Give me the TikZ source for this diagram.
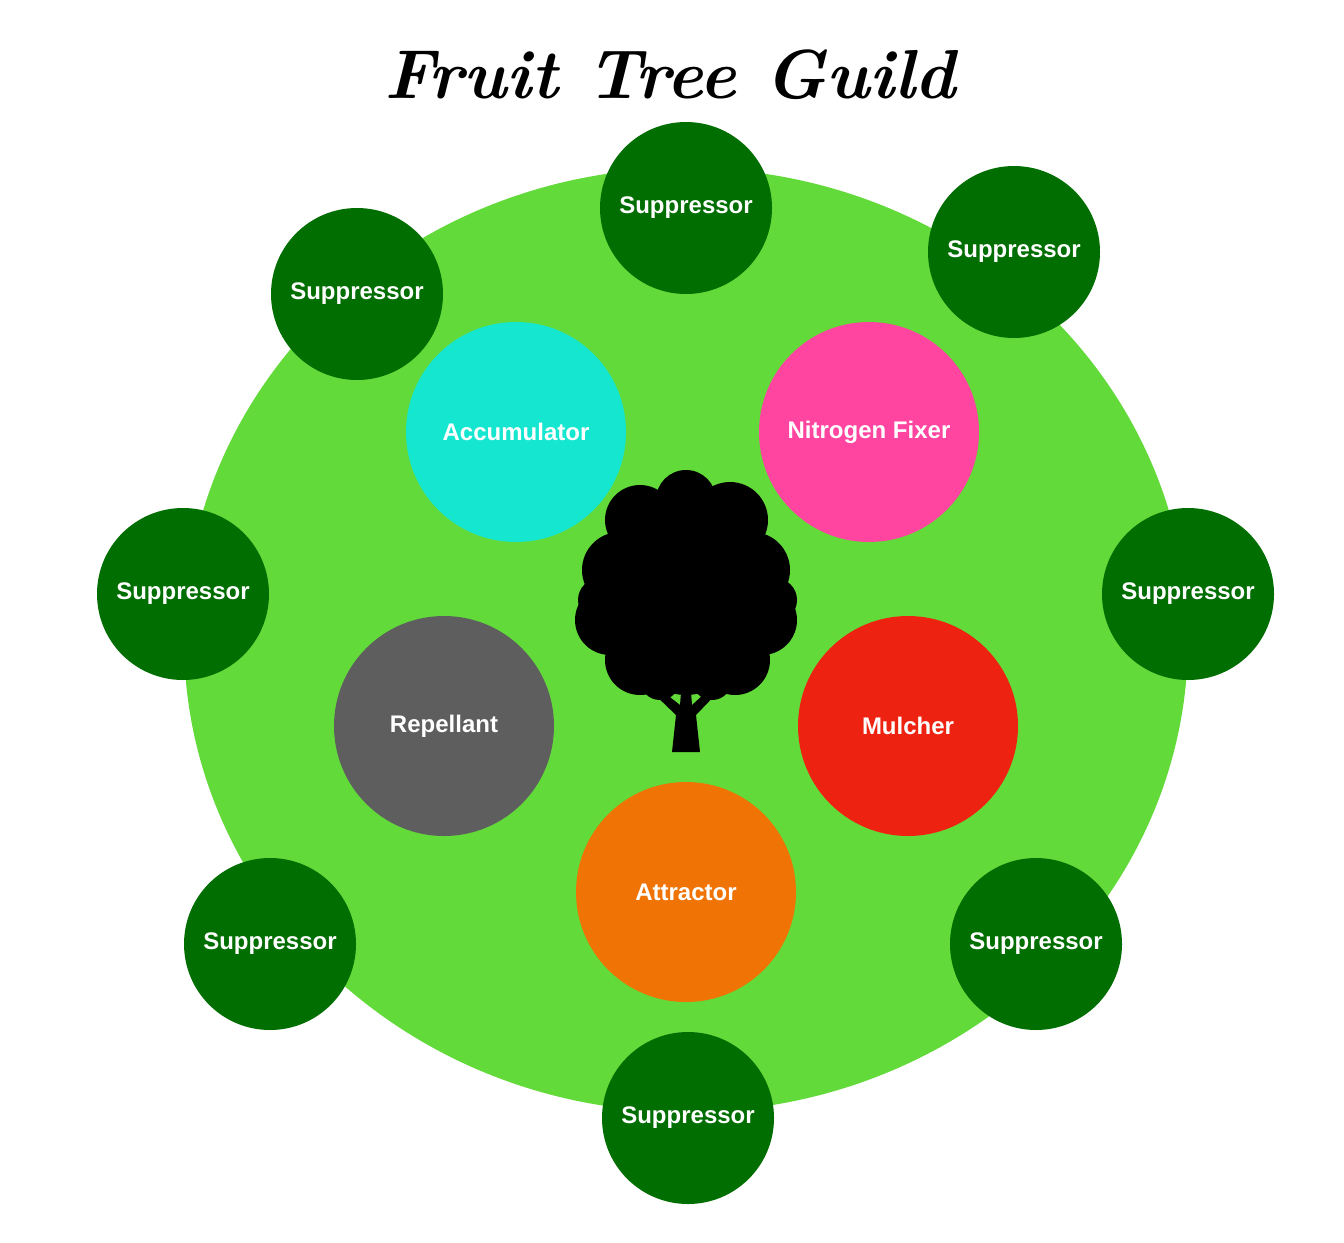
\documentclass[tikz,border=0pt]{standalone}
\usepackage{fontspec}
\setmainfont{Liberation Sans}
\newfontfamily\titlefont{Latin Modern Roman}
\begin{document}
\begin{tikzpicture}[x=0.75pt,y=-0.75pt,
  sup/.style={circle,fill=darkg,minimum size=172*0.75pt,inner sep=0pt,text=white,font=\bfseries\fontsize{18}{20}\selectfont},
  inner/.style={circle,minimum size=220*0.75pt,inner sep=0pt,text=white,font=\bfseries\fontsize{18}{20}\selectfont}]
\definecolor{darkg}{HTML}{006E00}
\definecolor{lightg}{HTML}{62DA3A}
\useasboundingbox (0,0) rectangle (1344,1242);
\fill[white] (0,0) rectangle (1344,1242);
\node[font=\titlefont\itshape\bfseries\fontsize{52}{56}\selectfont] (title) at (670,75) {Fruit Tree Guild};
\fill[lightg] (686,640) ellipse [x radius=502, y radius=472];
\node[sup] (s1) at (686,208) {Suppressor};
\node[sup] (s2) at (1014,252) {Suppressor};
\node[sup] (s3) at (357,294) {Suppressor};
\node[sup] (s4) at (183,594) {Suppressor};
\node[sup] (s5) at (1188,594) {Suppressor};
\node[sup] (s6) at (270,944) {Suppressor};
\node[sup] (s7) at (1036,944) {Suppressor};
\node[sup] (s8) at (688,1118) {Suppressor};
\node[inner,fill={rgb,255:red,20;green,230;blue,208}] (acc) at (516,432) {Accumulator};
\node[inner,fill={rgb,255:red,255;green,69;blue,160}] (nit) at (869,432) {Nitrogen Fixer};
\node[inner,fill={rgb,255:red,94;green,94;blue,94}] (rep) at (444,726) {Repellant};
\node[inner,fill={rgb,255:red,238;green,34;blue,17}] (mul) at (908,726) {Mulcher};
\node[inner,fill={rgb,255:red,240;green,115;blue,5}] (att) at (686,892) {Attractor};
% tree
\fill[black] (672,752) -- (676,715) -- (650,690) -- (656,686) -- (680,705) -- (682,680) -- (690,680) -- (692,705) -- (715,684) -- (720,690) -- (696,715) -- (700,752) -- cycle;
\foreach \x/\y/\r in {686/540/55,640/520/35,730/520/38,686/500/30,620/570/38,752/570/38,610/620/35,762/620/35,640/660/35,735/660/35,686/640/55,686/590/60,600/600/22,775/600/22,660/680/20,712/680/20}
  \fill[black] (\x,\y) circle (\r);
\end{tikzpicture}
\end{document}
